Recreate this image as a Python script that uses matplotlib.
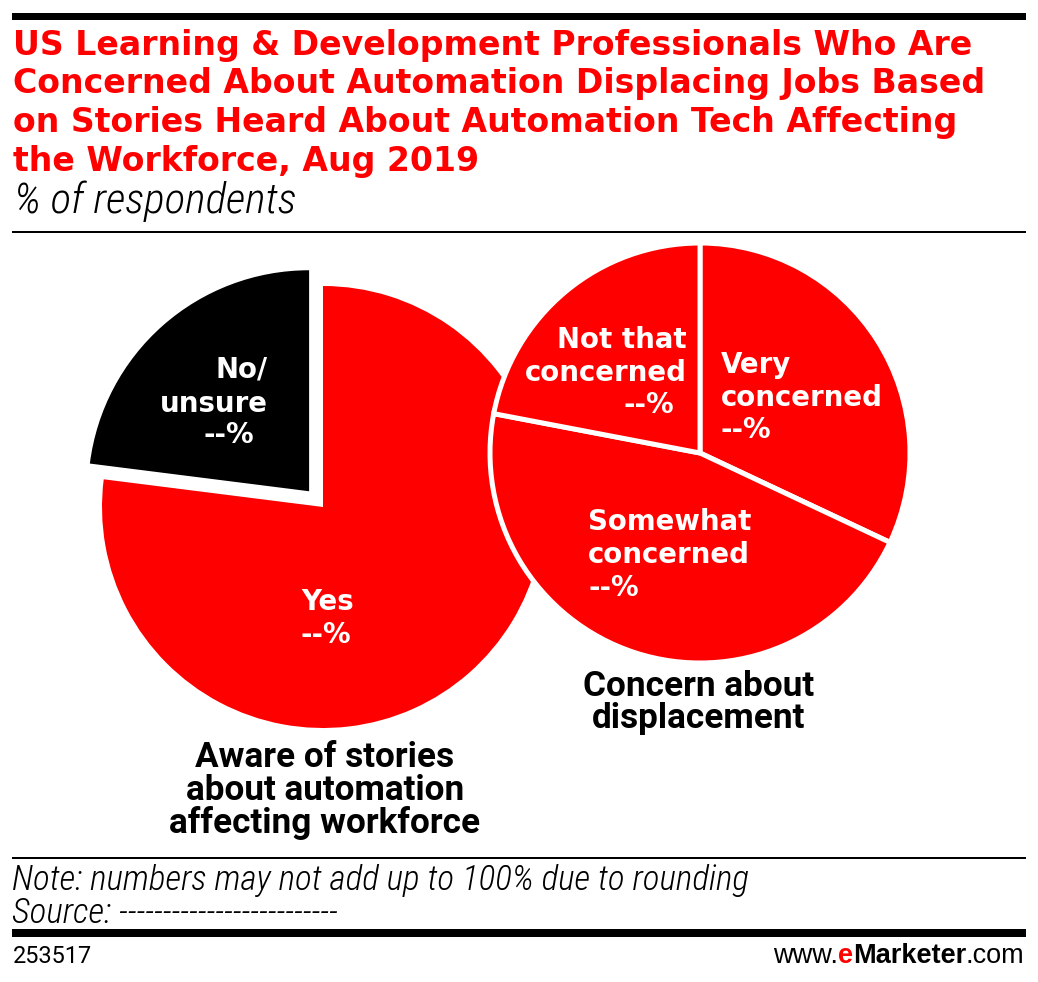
import matplotlib
matplotlib.use("Agg")
import matplotlib.pyplot as plt
from matplotlib import font_manager
from matplotlib.patches import Rectangle

# ---------------- data ----------------
aware_labels = ["No/\nunsure", "Yes"]
aware_values = [23, 77]
aware_colors = ["#000000", "#FF0000"]

concern_labels = ["Very\nconcerned", "Somewhat\nconcerned", "Not that\nconcerned"]
concern_values = [32, 46, 22]
concern_colors = ["#FF0000", "#FF0000", "#FF0000"]

value_text = "--%"

pie_titles = ["Aware of stories\nabout automation\naffecting workforce",
              "Concern about\ndisplacement"]

title_lines = ["US Learning & Development Professionals Who Are",
               "Concerned About Automation Displacing Jobs Based",
               "on Stories Heard About Automation Tech Affecting",
               "the Workforce, Aug 2019"]
subtitle = "% of respondents"
note = "Note: numbers may not add up to 100% due to rounding"
source = "Source: -------------------------"
chart_id = "253517"

# ---------------- fonts ----------------
names = {f.name for f in font_manager.fontManager.ttflist}
def pick(cands):
    for c in cands:
        if c in names:
            return c
    return "DejaVu Sans"

COND = pick(["Roboto Condensed", "Liberation Sans Narrow", "Open Sans Condensed", "DejaVu Sans"])
WIDE = "DejaVu Sans"
MED = pick(["Roboto", "Liberation Sans", "DejaVu Sans"])
REG = pick(["Roboto", "Liberation Sans", "DejaVu Sans"])
ARIAL = pick(["Liberation Sans", "DejaVu Sans"])

RED = "#FF0000"
W, H = 1038, 982
fig = plt.figure(figsize=(W / 100, H / 100), dpi=100)
ax = fig.add_axes([0, 0, 1, 1])
renderer = fig.canvas.get_renderer()


def Y(y):
    return H - y


def fit(text, target, **kw):
    t = fig.text(0, 0, text, fontsize=20, **kw)
    w = t.get_window_extent(renderer).width
    t.remove()
    return 20 * target / w


def put(x, y, s, size, ha="left", **kw):
    return fig.text(x / W, 1 - y / H, s, fontsize=size, ha=ha, va="baseline", **kw)


# ---------------- pies ----------------
R1 = 221
ax.pie(aware_values, colors=aware_colors, startangle=90, counterclock=True,
       explode=[0.095 * R1, 0], center=(323, Y(507)), radius=R1,
       wedgeprops=dict(linewidth=0))
ax.pie(concern_values, colors=concern_colors, startangle=90, counterclock=False,
       center=(700, Y(453)), radius=210,
       wedgeprops=dict(linewidth=3.6, edgecolor="white"))
ax.set_xlim(0, W)
ax.set_ylim(0, H)
ax.set_aspect("equal")
ax.axis("off")

# ---------------- rules ----------------
for (y0, h) in [(12.7, 7), (230.5, 2), (857, 2), (929, 8)]:
    ax.add_patch(Rectangle((12, Y(y0 + h)), 1014, h, color="black", lw=0))

# ---------------- title ----------------
tkw = dict(family=WIDE, weight="bold", color=RED)
sizes = [fit(l, w, **tkw) for l, w in zip(title_lines[:3], [950, 983, 950])]
ts = sum(sizes) / len(sizes)
for line, yb in zip(title_lines, [55, 93.5, 132, 171]):
    put(13, yb, line, ts, **tkw)

skw = dict(family=COND, style="italic", weight="light", color="black")
put(14, 213, subtitle, fit(subtitle, 283, **skw), **skw)

# ---------------- pie labels ----------------
lkw = dict(family=WIDE, weight="bold", color="white")
ls = fit("concerned", 162, **lkw)

def block(label, lines_pos):
    parts = (label + "\n" + value_text).split("\n")
    for p, (x, yb, ha) in zip(parts, lines_pos):
        put(x, yb, p, ls, ha=ha, **lkw)

block(aware_labels[0], [(268, 378, "right"), (268, 412, "right"), (229, 443, "center")])
block(aware_labels[1], [(301, 610, "left"), (301, 643, "left")])
block(concern_labels[0], [(721, 373, "left"), (721, 406, "left"), (721, 438, "left")])
block(concern_labels[1], [(588, 530, "left"), (588, 563, "left"), (588, 596, "left")])
block(concern_labels[2], [(687, 348, "right"), (687, 381, "right"), (649, 413, "center")])

# ---------------- pie titles ----------------
ckw = dict(family=MED, weight="bold", color="black")
cs = fit("affecting workforce", 310, **ckw)
for line, yb in zip(pie_titles[0].split("\n"), [767, 800, 833]):
    put(325, yb, line, cs, ha="center", **ckw)
for line, yb in zip(pie_titles[1].split("\n"), [696, 728]):
    put(699, yb, line, cs, ha="center", **ckw)

# ---------------- footer ----------------
fkw = dict(family=COND, style="italic", weight="light", color="black")
fs = fit(note, 760, **fkw) * 0.97
put(12, 890, note, fs, **fkw)
put(12, 923, source, fs, **fkw)

ikw = dict(family=REG, color="black")
put(13, 963, chart_id, fit(chart_id, 79, **ikw), **ikw)

# www.eMarketer.com composed left-to-right, fitted to its width
pieces = [("www.", "normal", "black"), ("e", "bold", RED),
          ("Marketer", "bold", "black"), (".com", "normal", "black")]
base = 20
widths = []
for s, wgt, col in pieces:
    t = fig.text(0, 0, s, fontsize=base, family=ARIAL, weight=wgt)
    widths.append(t.get_window_extent(renderer).width)
    t.remove()
scale = 251 / sum(widths)
x = 773
for (s, wgt, col), w in zip(pieces, widths):
    put(x, 963, s, base * scale, family=ARIAL, weight=wgt, color=col)
    x += w * scale

fig.savefig("out.png", dpi=100)
